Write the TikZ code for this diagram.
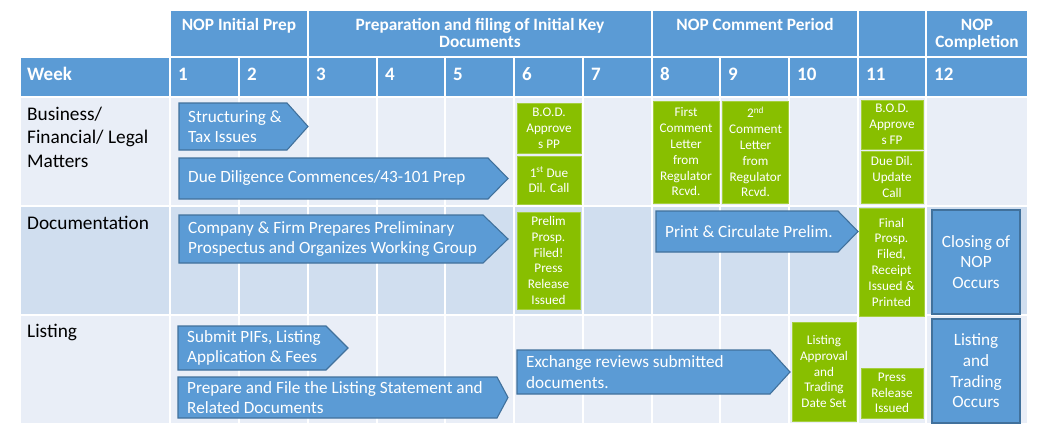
\documentclass[tikz,border=0pt]{standalone}
\usepackage{fontspec}
\setmainfont{Carlito}
\definecolor{hblue}{HTML}{5B9BD5}
\definecolor{bborder}{HTML}{41719C}
\definecolor{rowA}{HTML}{E9EEF7}
\definecolor{rowB}{HTML}{D0DEEF}
\definecolor{gfill}{RGB}{136,191,0}
\newcommand{\pentarrow}[6]{%
  \draw[arrowshape] (#2,#3) -- (#6,#3) -- (#4,{(#3+#5)/2}) -- (#6,#5) -- (#2,#5) -- cycle;
  \coordinate (#1) at ({#2+9},{(#3+#5)/2});
}
\begin{document}
\begin{tikzpicture}[x=1pt,y=-1pt,
  headtext/.style={font=\bfseries\fontsize{17.3}{17}\selectfont, text=white, align=center, inner sep=0, anchor=north},
  weektext/.style={font=\bfseries\fontsize{19}{22}\selectfont, text=white, inner sep=0, anchor=base west},
  rowlabel/.style={font=\fontsize{19.3}{23.3}\selectfont, text=black, align=left, inner sep=0, anchor=north west},
  arrowshape/.style={fill=hblue, draw=bborder, line width=1.1pt, line join=miter},
  arrowtext/.style={font=\fontsize{17.2}{20.5}\selectfont, text=white, align=left, inner sep=0, anchor=west},
  gbox/.style={fill=gfill, draw=gfill!75!white, line width=0.6pt, text=white, align=center, inner sep=0, font=\fontsize{13.2}{15.8}\selectfont},
  bbox/.style={fill=hblue, draw=bborder, line width=1.4pt, text=white, align=center, inner sep=0, font=\fontsize{17.2}{20.7}\selectfont}
]
\useasboundingbox (0,0) rectangle (1040,434);
\fill[white] (0,0) rectangle (1040,434);
% header row
\foreach \xa/\xb in {170/308,308/652,652/858,858/926,926/1028}
  \fill[hblue] ({\xa+1},11) rectangle ({\xb-1},56);
% table rows
\foreach \ya/\yb/\c in {57/97/hblue,97/206/rowA,206/315/rowB,315/424/rowA}
  \foreach \xa/\xb in {20/170,170/239,239/308,308/377,377/445,445/514,514/583,583/652,652/720,720/789,789/858,858/926,926/1028}
    \fill[\c] ({\xa+1},{\ya+1}) rectangle ({\xb-1},{\yb-1});
% header texts
\node[headtext] (h1) at (239,18.5) {NOP Initial Prep};
\node[headtext] (h2) at (480,18.5) {Preparation and filing of Initial Key\\Documents};
\node[headtext] (h3) at (755,18.5) {NOP Comment Period};
\node[headtext] (h4) at (977,18.5) {NOP\\Completion};
% week row
\node[weektext] (wk) at (27,80) {Week};
\foreach \n/\x in {1/170,2/239,3/308,4/377,5/445,6/514,7/583,8/652,9/720,10/789,11/858,12/926}
  \node[weektext] (w\n) at ({\x+8},80) {\n};
% row labels
\node[rowlabel] (rl1) at (27,107) {Business/\\Financial/ Legal\\Matters};
\node[rowlabel, anchor=base west] (rl2) at (27,229) {Documentation};
\node[rowlabel, anchor=base west] (rl3) at (27,337) {Listing};
% arrows
\pentarrow{a1}{179}{103}{308}{150}{287}
\node[arrowtext] (t1) at (a1) {Structuring \&\\Tax Issues};
\pentarrow{a2}{179}{158}{508}{199}{488}
\node[arrowtext] (t2) at (a2) {Due Diligence Commences/43-101 Prep};
\pentarrow{a3}{179}{215}{508}{263}{483}
\node[arrowtext] (t3) at (a3) {Company \& Firm Prepares Preliminary\\Prospectus and Organizes Working Group};
\pentarrow{a4}{656}{211}{858}{252}{838}
\node[arrowtext] (t4) at (a4) {Print \& Circulate Prelim.};
\pentarrow{a5}{178}{326}{348}{370}{326}
\node[arrowtext] (t5) at (a5) {Submit PIFs, Listing\\Application \& Fees};
\pentarrow{a6}{178}{377}{508}{418}{497}
\node[arrowtext] (t6) at (a6) {Prepare and File the Listing Statement and\\Related Documents};
\pentarrow{a7}{517}{350}{790}{394}{770}
\node[arrowtext] (t7) at (a7) {Exchange reviews submitted\\documents.};
% green boxes
\node[gbox, minimum width=64, minimum height=50] (bodpp) at (549,128) {B.O.D.\\Approve\\s PP};
\node[gbox, minimum width=64, minimum height=48] (due1) at (549,180) {1\textsuperscript{st} Due\\Dil. Call};
\node[gbox, minimum width=66, minimum height=102] (fcl) at (686,152) {First\\Comment\\Letter\\from\\Regulator\\Rcvd.};
\node[gbox, minimum width=66, minimum height=102] (scl) at (755.5,152) {2\textsuperscript{nd}\\Comment\\Letter\\from\\Regulator\\Rcvd.};
\node[gbox, minimum width=62, minimum height=49] (bodfp) at (892,124.5) {B.O.D.\\Approve\\s FP};
\node[gbox, minimum width=62, minimum height=52] (dueupd) at (892,177) {Due Dil.\\Update\\Call};
\node[gbox, minimum width=63, minimum height=97] (prelim) at (548.5,260.5) {Prelim\\Prosp.\\Filed!\\Press\\Release\\Issued};
\node[gbox, minimum width=65, minimum height=108] (finalp) at (891.5,262) {Final\\Prosp.\\Filed,\\Receipt\\Issued \&\\Printed};
\node[gbox, minimum width=64, minimum height=99] (listappr) at (824,371.5) {Listing\\Approval\\and\\Trading\\Date Set};
\node[gbox, minimum width=62, minimum height=50] (pressrel) at (892,393) {Press\\Release\\Issued};
% blue boxes
\node[bbox, minimum width=88, minimum height=104] (closing) at (976,262) {Closing of\\NOP\\Occurs};
\node[bbox, minimum width=88, minimum height=104] (listtrade) at (976,371) {Listing\\and\\Trading\\Occurs};
\end{tikzpicture}
\end{document}
